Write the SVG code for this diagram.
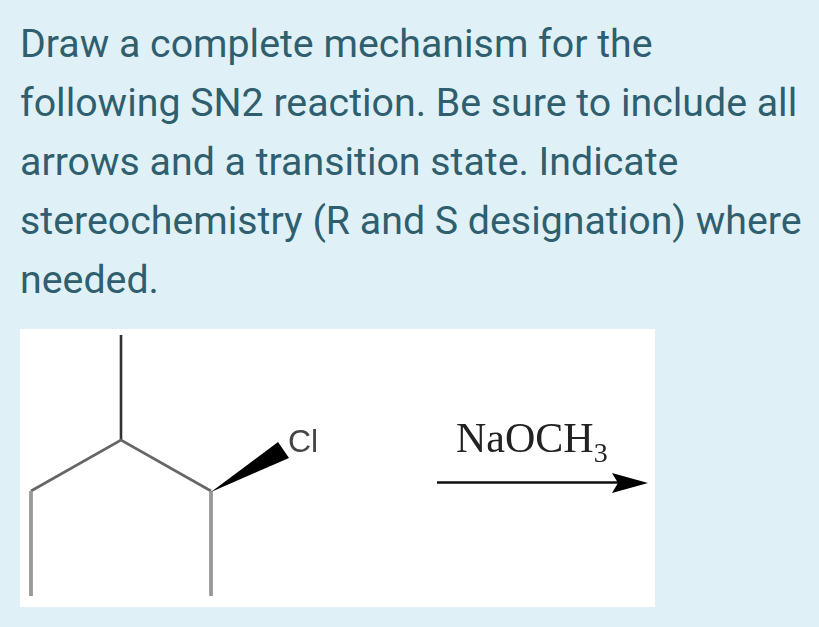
<svg xmlns="http://www.w3.org/2000/svg" width="819" height="627" viewBox="0 0 819 627">
<defs><filter id="soft" x="-5%" y="-5%" width="110%" height="110%"><feGaussianBlur stdDeviation="0.7"/></filter></defs>
<style>
.q{font-family:Roboto,"Liberation Sans",sans-serif;font-size:39.3px;fill:#2f5f6e}
.dark{fill:none;stroke:#333;stroke-width:2.6}
.mid{fill:none;stroke:#666;stroke-width:2.6}
.pale{fill:none;stroke:#999;stroke-width:3.8}
</style>
<rect width="819" height="627" fill="#dff1f7"/>
<text class="q" x="20" y="57">Draw a complete mechanism for the</text>
<text class="q" x="20" y="116">following SN2 reaction. Be sure to include all</text>
<text class="q" x="20" y="175">arrows and a transition state. Indicate</text>
<text class="q" x="20" y="234">stereochemistry (R and S designation) where</text>
<text class="q" x="20" y="293">needed.</text>
<rect x="20" y="329" width="635" height="278" fill="#fff"/>
<g id="molecule" filter="url(#soft)">
<path class="dark" d="M121 335V440"/>
<path class="mid" d="M31 491L121 440L211 491"/>
<path class="pale" d="M31 491V596M211 491V596"/>
<polygon points="211,492 278,442 289,458" fill="#000"/>
<text x="288" y="452" font-family="'Liberation Sans',sans-serif" font-size="32" fill="#444">Cl</text>
</g>
<g id="reagent" filter="url(#soft)">
<text x="456" y="452" font-family="'Liberation Serif',serif" font-size="42" fill="#222">NaOCH<tspan font-size="28" dy="10">3</tspan></text>
</g>
<g id="connectors" filter="url(#soft)">
<path d="M437 482.500H620" stroke="#111" stroke-width="2.6" fill="none"/>
<polygon points="612,473 648,483 612,493 618,483" fill="#000"/>
</g>
</svg>
